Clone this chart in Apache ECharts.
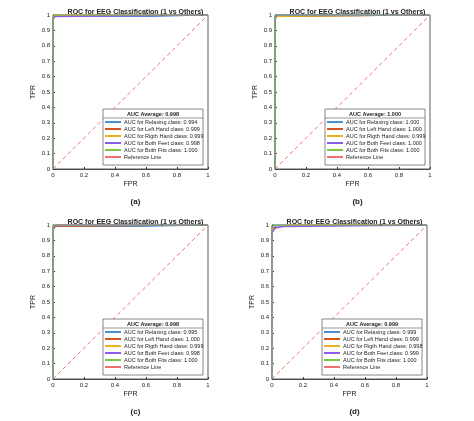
<!DOCTYPE html>
<html><head><meta charset="utf-8">
<script src="https://cdn.jsdelivr.net/npm/echarts@6/dist/echarts.min.js"></script>
<style>html,body{margin:0;background:#fff}#chart{width:474px;height:421px}</style>
</head><body><div id="chart"></div>
<script>
var classNames = ['Relaxing', 'Left Hand', 'Rigth Hand', 'Both Feet', 'Both Fits'];
var colors = ['#4a90d9', '#d9541a', '#edb120', '#8a5cf0', '#77c940'];
var panelLabels = ['(a)', '(b)', '(c)', '(d)'];
var aucAverage = ['0.998', '1.000', '0.998', '0.999'];
var aucValues = [
    ['0.994', '0.999', '0.999', '0.998', '1.000'],
    ['1.000', '1.000', '0.999', '1.000', '1.000'],
    ['0.995', '1.000', '0.999', '0.998', '1.000'],
    ['0.999', '0.999', '0.998', '0.999', '1.000']
];
// [fpr, tpr] points per class per panel
var rocA = [
    [[0, 0], [0, 0.97], [0.01, 0.99], [0.62, 0.99], [0.62, 1], [1, 1]],
    [[0, 0], [0, 0.98], [0.015, 1], [1, 1]],
    [[0, 0], [0, 0.985], [0.02, 1], [1, 1]],
    [[0, 0], [0, 0.97], [0.01, 0.99], [0.02, 1], [1, 1]],
    [[0, 0], [0, 1], [1, 1]]
];
var rocB = [
    [[0, 0], [0, 0.99], [0.005, 1], [1, 1]],
    [[0, 0], [0, 0.99], [0.01, 1], [1, 1]],
    [[0, 0], [0, 0.97], [0.015, 0.99], [0.02, 1], [1, 1]],
    [[0, 0], [0, 0.98], [0.01, 1], [1, 1]],
    [[0, 0], [0, 1], [1, 1]]
];
var rocC = [
    [[0, 0], [0, 0.97], [0.01, 0.99], [0.56, 0.99], [0.56, 1], [1, 1]],
    [[0, 0], [0, 0.99], [0.01, 1], [1, 1]],
    [[0, 0], [0, 0.98], [0.02, 1], [1, 1]],
    [[0, 0], [0, 0.97], [0.015, 0.99], [0.03, 1], [1, 1]],
    [[0, 0], [0, 1], [1, 1]]
];
var rocD = [
    [[0, 0], [0, 0.98], [0.02, 0.99], [0.04, 1], [1, 1]],
    [[0, 0], [0, 0.98], [0.06, 0.99], [0.13, 1], [1, 1]],
    [[0, 0], [0, 0.97], [0.05, 0.99], [0.1, 1], [1, 1]],
    [[0, 0], [0, 0.95], [0.02, 0.98], [0.07, 0.99], [0.08, 1], [1, 1]],
    [[0, 0], [0, 1], [1, 1]]
];
var rocData = [rocA, rocB, rocC, rocD];
var refLine = [[0, 0], [1, 1]];

var grids = [
    {left: 53, top: 15, width: 155, height: 154},
    {left: 275, top: 15, width: 155, height: 154},
    {left: 53, top: 225, width: 155, height: 154},
    {left: 272, top: 225, width: 155, height: 154}
];

var axisLine = {show: true, lineStyle: {color: '#333', width: 0.8}};
var tickLabel = {fontSize: 6, color: '#222', fontFamily: 'Liberation Sans', margin: 3};
var option = {
    animation: false,
    grid: [], xAxis: [], yAxis: [], series: [], legend: [], title: [], graphic: []
};

grids.forEach(function (g, i) {
    option.grid.push({left: g.left, top: g.top, width: g.width, height: g.height,
        show: true, borderColor: '#333', borderWidth: 0.8});
    option.xAxis.push({type: 'value', gridIndex: i, min: 0, max: 1, interval: 0.2,
        name: 'FPR', nameLocation: 'middle', nameGap: 12,
        nameTextStyle: {fontSize: 7, color: '#222', fontFamily: 'Liberation Sans'},
        axisLine: axisLine, axisTick: {inside: true, length: 2}, splitLine: {show: false},
        axisLabel: Object.assign({formatter: function (v) { return +v.toFixed(1) + ''; }}, tickLabel)});
    option.yAxis.push({type: 'value', gridIndex: i, min: 0, max: 1, interval: 0.1,
        name: 'TPR', nameLocation: 'middle', nameGap: 16,
        nameTextStyle: {fontSize: 7, color: '#222', fontFamily: 'Liberation Sans'},
        axisLine: axisLine, axisTick: {inside: true, length: 2}, splitLine: {show: false},
        axisLabel: Object.assign({formatter: function (v) { return +v.toFixed(1) + ''; }}, tickLabel)});
    option.title.push({text: 'ROC for EEG Classification (1 vs Others)',
        left: g.left + g.width / 2, top: g.top - 11, textAlign: 'center',
        textStyle: {fontSize: 7, fontWeight: 'bold', color: '#222', fontFamily: 'Liberation Sans'}});
    option.title.push({text: panelLabels[i], left: g.left + g.width / 2, top: g.top + g.height + 24,
        textAlign: 'center',
        textStyle: {fontSize: 8, fontWeight: 'bold', color: '#222', fontFamily: 'Liberation Sans'}});

    var names = [];
    classNames.forEach(function (c, k) {
        var nm = 'AUC for ' + c + ' class: ' + aucValues[i][k];
        names.push({name: nm, itemStyle: {color: colors[k]}});
        option.series.push({type: 'line', name: nm, xAxisIndex: i, yAxisIndex: i,
            data: rocData[i][k], showSymbol: false, symbol: 'none',
            lineStyle: {color: colors[k], width: k === 3 ? 1.6 : 1.1}, itemStyle: {color: colors[k]}, z: 2 + k});
    });
    names.push({name: 'Reference Line'});
    option.series.push({type: 'line', name: 'Reference Line', xAxisIndex: i, yAxisIndex: i,
        data: refLine, showSymbol: false, symbol: 'none',
        lineStyle: {color: '#f07070', width: 1, type: [4, 3]}, itemStyle: {color: '#f07070'}, z: 1});

    var bx = g.left + 50, by = g.top + 94, bw = 100, bh = 56;
    option.graphic.push({type: 'rect', shape: {x: bx, y: by, width: bw, height: bh},
        style: {fill: '#fff', stroke: '#555', lineWidth: 0.7}, z: 50});
    option.graphic.push({type: 'line', shape: {x1: bx, y1: by + 9, x2: bx + bw, y2: by + 9},
        style: {stroke: '#555', lineWidth: 0.6}, z: 51});
    option.graphic.push({type: 'text', x: bx + bw / 2, y: by + 2,
        style: {text: 'AUC Average: ' + aucAverage[i], fontSize: 5.5, fontWeight: 'bold',
            fill: '#222', align: 'center', fontFamily: 'Liberation Sans'}, z: 52});
    option.legend.push({orient: 'vertical', left: bx + 2, top: by + 10, z: 60, padding: 0,
        data: names, itemWidth: 16, itemHeight: 2, itemGap: 1, selectedMode: false,
        icon: 'rect',
        textStyle: {fontSize: 5.5, lineHeight: 6, color: '#222', fontFamily: 'Liberation Sans', padding: [0, 0, 0, -2]}});
});

var chart = echarts.init(document.getElementById('chart'));
chart.setOption(option);
</script></body></html>
